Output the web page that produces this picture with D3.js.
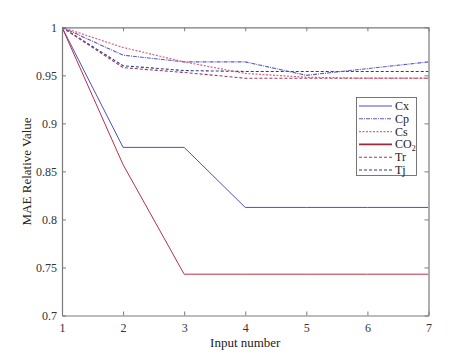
<!DOCTYPE html>
<html><head><meta charset="utf-8">
<script src="https://cdn.jsdelivr.net/npm/d3@7"></script>
<style>body{margin:0;background:#fff}svg{display:block}text{font-family:"Liberation Serif","Times New Roman",serif}</style>
</head><body>
<script>
const inputs = [1,2,3,4,5,6,7];
const seriesNames = ["Cx","Cp","Cs","CO2","Tr","Tj"];
const cx  = [1,0.875,0.875,0.8125,0.8125,0.8125,0.8125];
const cp  = [1,0.971,0.964,0.964,0.950,0.957,0.964];
const cs  = [1,0.979,0.964,0.952,0.948,0.947,0.947];
const co2 = [1,0.857,0.743,0.743,0.743,0.743,0.743];
const tr  = [1,0.958,0.953,0.947,0.947,0.947,0.947];
const tj  = [1,0.960,0.955,0.954,0.954,0.954,0.954];
const yTicks = [0.7,0.75,0.8,0.85,0.9,0.95,1];
const yTickLabels = ["0.7","0.75","0.8","0.85","0.9","0.95","1"];

const styles = {
  Cx:{color:"#4b50c4",w:1.0,dash:null},
  Cp:{color:"#5a5ad0",w:1.1,dash:"4,1,1,1"},
  Cs:{color:"#e0607e",w:1.2,dash:"2,1.5"},
  CO2:{color:"#b83048",w:1.0,dash:null},
  Tr:{color:"#a03858",w:1.1,dash:"3,2"},
  Tj:{color:"#303a90",w:1.1,dash:"3,2"}
};
const data = {Cx:cx,Cp:cp,Cs:cs,CO2:co2,Tr:tr,Tj:tj};

const W=474,H=355;
const L=62,R=428.5,T=27.3,B=315.5;
const svg=d3.select("body").append("svg").attr("width",W).attr("height",H);
const x=d3.scaleLinear().domain([1,7]).range([L,R]);
const y=d3.scaleLinear().domain([0.7,1]).range([B,T]);
const axisColor="#7a7a7a";

const line=d3.line().x((d,i)=>x(inputs[i])).y(d=>y(d));
svg.append("clipPath").attr("id","c").append("rect").attr("x",L).attr("y",T-1).attr("width",R-L).attr("height",B-T+2);
const g=svg.append("g").attr("clip-path","url(#c)");
["Tj","Tr","Cp","Cs","Cx","CO2"].forEach(k=>{
  const s=styles[k];
  g.append("path").attr("d",line(data[k])).attr("fill","none").attr("stroke",s.color)
   .attr("stroke-width",s.w).attr("stroke-dasharray",s.dash);
});

function styleAxis(a){
  a.selectAll("path,line").attr("stroke",axisColor);
  a.select(".domain").attr("stroke-width",1.2);
  a.selectAll("text").attr("fill","#333").style("font-size","12px");
}
const xb=svg.append("g").attr("transform",`translate(0,${B})`).call(d3.axisBottom(x).tickValues(inputs).tickSize(-4).tickSizeOuter(0).tickPadding(8).tickFormat(d3.format("d")));
styleAxis(xb);
const xt=svg.append("g").attr("transform",`translate(0,${T})`).call(d3.axisTop(x).tickValues(inputs).tickSize(-4).tickSizeOuter(0).tickFormat(""));
styleAxis(xt);
const yl=svg.append("g").attr("transform",`translate(${L},0)`).call(d3.axisLeft(y).tickValues(yTicks).tickSize(-4).tickSizeOuter(0).tickPadding(5).tickFormat((d,i)=>yTickLabels[i]));
styleAxis(yl);
const yr=svg.append("g").attr("transform",`translate(${R},0)`).call(d3.axisRight(y).tickValues(yTicks).tickSize(-4).tickSizeOuter(0).tickFormat(""));
styleAxis(yr);

svg.append("text").attr("x",(L+R)/2).attr("y",347).attr("text-anchor","middle").style("font-size","13px").attr("fill","#222").text("Input number");
svg.append("text").attr("transform",`translate(31,${(T+B)/2}) rotate(-90)`).attr("text-anchor","middle").style("font-size","13px").attr("fill","#222").text("MAE Relative Value");

const lg=svg.append("g");
lg.append("rect").attr("x",356.5).attr("y",97.5).attr("width",60).attr("height",78).attr("fill","#fff").attr("stroke","#555").attr("stroke-width",0.8);
seriesNames.forEach((k,i)=>{
  const yy=106+i*12.8;
  const s=styles[k];
  lg.append("line").attr("x1",359).attr("x2",392).attr("y1",yy).attr("y2",yy).attr("stroke",k==="CO2"?"#a02838":s.color).attr("stroke-width",k==="CO2"?1.8:s.w).attr("stroke-dasharray",s.dash);
  const t=lg.append("text").attr("x",395).attr("y",yy+4).style("font-size","12px").attr("fill","#222");
  if(k==="CO2"){t.text("CO");t.append("tspan").attr("dy",3).style("font-size","8px").text("2");}
  else t.text(k);
});
</script>
</body></html>
